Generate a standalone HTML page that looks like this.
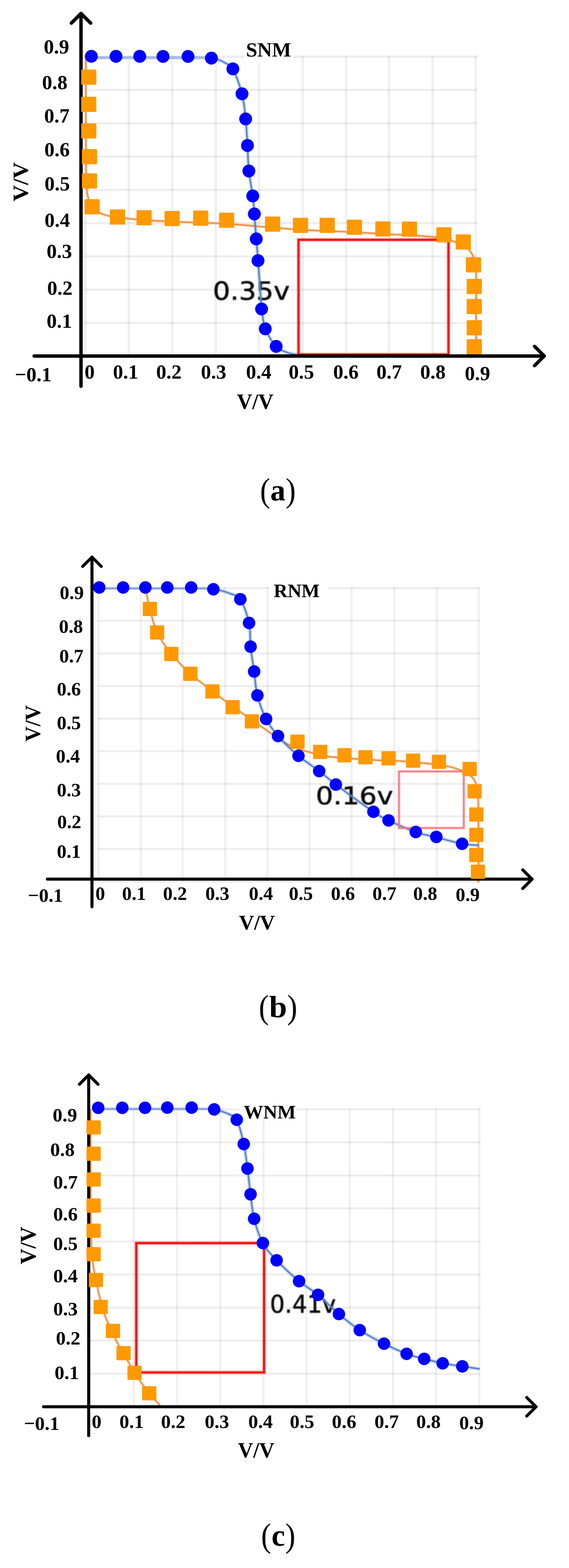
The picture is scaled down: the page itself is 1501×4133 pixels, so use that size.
<!DOCTYPE html>
<html lang="en">
<head>
<meta charset="utf-8">
<title>Noise margin curves: SNM, RNM, WNM</title>
<style>
html,body{margin:0;padding:0;background:#fff;}
body{width:1501px;height:4133px;overflow:hidden;}
svg{display:block;}
.gv{stroke:#000;stroke-opacity:0.058;}
.gh{stroke:#000;stroke-opacity:0.068;}
.axis path{stroke:#000;fill:none;stroke-linecap:round;stroke-linejoin:round;}
.dots circle{fill:#0000ff;}
.sq rect{fill:#ff9900;}
.ol{stroke:#ef9046;stroke-width:3.8;fill:none;stroke-linejoin:round;}
.olh{stroke:#f5a040;stroke-opacity:0.25;stroke-width:9;fill:none;stroke-linejoin:round;}
.bl{stroke:#5580c6;stroke-width:3.8;fill:none;stroke-linejoin:round;}
.blt{stroke:#a9bcde;stroke-width:8;fill:none;}
.blt2{stroke:#7f9dd6;stroke-width:4;fill:none;}
.blt2h{stroke:#9db4e0;stroke-opacity:0.45;stroke-width:9;fill:none;}
.blh{stroke:#5a86cc;stroke-opacity:0.3;stroke-width:10;fill:none;stroke-linejoin:round;}
.red{stroke:#ff1010;fill:none;}
.redh{stroke:#ff2020;stroke-opacity:0.3;fill:none;}
.red2{stroke:#f6707c;fill:none;}
.red2h{stroke:#f6707c;stroke-opacity:0.3;fill:none;}
.lab text,text.lab{font-family:"Liberation Serif",serif;font-weight:bold;fill:#000;}
.sans{font-family:"DejaVu Sans","Liberation Sans",sans-serif;fill:#0a0a0a;stroke:#0a0a0a;stroke-width:1.1;}
.cap{font-family:"Liberation Serif",serif;font-size:80px;fill:#000;}
.cap.b{font-weight:bold;}
</style>
</head>
<body>
<svg width="1501" height="4133" viewBox="0 0 1501 4133">
<defs>
<filter id="b0" x="-5%" y="-5%" width="110%" height="110%"><feGaussianBlur stdDeviation="0.7"/></filter>
<filter id="b2" x="-5%" y="-20%" width="110%" height="140%"><feGaussianBlur stdDeviation="0.9"/></filter>
</defs>
<rect width="1501" height="4133" fill="#fff"/>
<!-- chart a -->
<g id="chart-a">
<g class="grid"><g stroke-width="6.5">
<line class="gv" x1="225.6" y1="146.1" x2="225.6" y2="939.0"/>
<line class="gv" x1="340.0" y1="146.1" x2="340.0" y2="939.0"/>
<line class="gv" x1="454.4" y1="146.1" x2="454.4" y2="939.0"/>
<line class="gv" x1="569.0" y1="146.1" x2="569.0" y2="939.0"/>
<line class="gv" x1="683.1" y1="146.1" x2="683.1" y2="939.0"/>
<line class="gv" x1="798.5" y1="146.1" x2="798.5" y2="939.0"/>
<line class="gv" x1="913.0" y1="146.1" x2="913.0" y2="939.0"/>
<line class="gv" x1="1026.0" y1="146.1" x2="1026.0" y2="939.0"/>
<line class="gv" x1="1141.0" y1="146.1" x2="1141.0" y2="939.0"/>
<line class="gv" x1="1255.0" y1="146.1" x2="1255.0" y2="939.0"/>
</g><g stroke-width="6">
<line class="gh" x1="222.3" y1="149.6" x2="1258.2" y2="149.6"/>
<line class="gh" x1="222.3" y1="237.3" x2="1258.2" y2="237.3"/>
<line class="gh" x1="222.3" y1="325.0" x2="1258.2" y2="325.0"/>
<line class="gh" x1="222.3" y1="412.7" x2="1258.2" y2="412.7"/>
<line class="gh" x1="222.3" y1="500.4" x2="1258.2" y2="500.4"/>
<line class="gh" x1="222.3" y1="588.2" x2="1258.2" y2="588.2"/>
<line class="gh" x1="222.3" y1="675.9" x2="1258.2" y2="675.9"/>
<line class="gh" x1="222.3" y1="763.6" x2="1258.2" y2="763.6"/>
<line class="gh" x1="222.3" y1="851.3" x2="1258.2" y2="851.3"/>
<line class="gh" x1="222.3" y1="939.0" x2="1258.2" y2="939.0"/>
</g></g>
<rect x="646.0" y="100.0" width="128.0" height="66.0" fill="#fff"/>
<text class="sans" filter="url(#b2)" x="561.5" y="789.5" font-size="65.0" textLength="203.0" lengthAdjust="spacingAndGlyphs">0.35v</text>
<g filter="url(#b0)"><path class="olh" d="M226.5 152.0C226.5 176.7 226.4 255.3 226.5 300.0C226.6 344.7 226.6 388.3 226.8 420.0C227.1 451.7 226.6 471.7 228.0 490.0C229.4 508.3 231.3 519.5 235.0 530.0C238.7 540.5 243.3 547.0 250.0 553.0C256.7 559.0 265.0 562.7 275.0 566.0C285.0 569.3 292.5 570.7 310.0 573.0C327.5 575.3 356.0 578.2 380.0 580.0C404.0 581.8 429.0 582.8 454.0 584.0C479.0 585.2 505.7 586.0 530.0 587.0C554.3 588.0 568.3 587.8 600.0 590.0C631.7 592.2 686.7 597.3 720.0 600.0C753.3 602.7 775.8 604.5 800.0 606.0C824.2 607.5 842.5 608.0 865.0 609.0C887.5 610.0 912.5 610.8 935.0 612.0C957.5 613.2 971.3 614.4 1000.0 616.0C1028.7 617.6 1080.3 619.9 1107.0 621.7C1133.7 623.5 1142.8 623.8 1160.0 627.0C1177.2 630.2 1197.5 636.2 1210.0 641.0C1222.5 645.8 1228.2 649.0 1235.0 656.0C1241.8 663.0 1247.5 672.3 1251.0 683.0C1254.5 693.7 1255.2 700.5 1256.0 720.0C1256.8 739.5 1256.0 764.0 1256.0 800.0C1256.0 836.0 1256.0 913.3 1256.0 936.0"/><path class="ol" d="M226.5 152.0C226.5 176.7 226.4 255.3 226.5 300.0C226.6 344.7 226.6 388.3 226.8 420.0C227.1 451.7 226.6 471.7 228.0 490.0C229.4 508.3 231.3 519.5 235.0 530.0C238.7 540.5 243.3 547.0 250.0 553.0C256.7 559.0 265.0 562.7 275.0 566.0C285.0 569.3 292.5 570.7 310.0 573.0C327.5 575.3 356.0 578.2 380.0 580.0C404.0 581.8 429.0 582.8 454.0 584.0C479.0 585.2 505.7 586.0 530.0 587.0C554.3 588.0 568.3 587.8 600.0 590.0C631.7 592.2 686.7 597.3 720.0 600.0C753.3 602.7 775.8 604.5 800.0 606.0C824.2 607.5 842.5 608.0 865.0 609.0C887.5 610.0 912.5 610.8 935.0 612.0C957.5 613.2 971.3 614.4 1000.0 616.0C1028.7 617.6 1080.3 619.9 1107.0 621.7C1133.7 623.5 1142.8 623.8 1160.0 627.0C1177.2 630.2 1197.5 636.2 1210.0 641.0C1222.5 645.8 1228.2 649.0 1235.0 656.0C1241.8 663.0 1247.5 672.3 1251.0 683.0C1254.5 693.7 1255.2 700.5 1256.0 720.0C1256.8 739.5 1256.0 764.0 1256.0 800.0C1256.0 836.0 1256.0 913.3 1256.0 936.0"/><path class="blt" d="M240.0 152.0H557.0"/><path class="blh" d="M552.0 152.5C555.8 153.2 567.7 154.6 575.0 157.0C582.3 159.4 589.5 162.9 596.0 167.0C602.5 171.1 607.2 168.2 614.3 181.6C621.4 195.0 632.8 225.3 638.4 247.3C644.0 269.3 645.6 290.9 648.0 313.6C650.4 336.3 651.4 360.6 652.8 383.5C654.2 406.4 654.2 428.5 656.5 450.7C658.8 472.9 664.3 497.6 666.7 516.5C669.1 535.4 669.5 545.1 671.0 564.0C672.5 582.9 674.4 609.2 676.0 629.7C677.6 650.2 679.0 666.9 680.6 686.9C682.2 706.9 683.8 728.6 685.5 750.0C687.2 771.4 688.3 795.5 690.7 815.0C693.1 834.5 693.5 850.5 699.8 866.8C706.1 883.1 718.6 902.5 728.6 913.0C738.6 923.5 750.3 926.3 760.0 930.0C769.7 933.7 782.5 934.2 787.0 935.0"/><path class="bl" d="M552.0 152.5C555.8 153.2 567.7 154.6 575.0 157.0C582.3 159.4 589.5 162.9 596.0 167.0C602.5 171.1 607.2 168.2 614.3 181.6C621.4 195.0 632.8 225.3 638.4 247.3C644.0 269.3 645.6 290.9 648.0 313.6C650.4 336.3 651.4 360.6 652.8 383.5C654.2 406.4 654.2 428.5 656.5 450.7C658.8 472.9 664.3 497.6 666.7 516.5C669.1 535.4 669.5 545.1 671.0 564.0C672.5 582.9 674.4 609.2 676.0 629.7C677.6 650.2 679.0 666.9 680.6 686.9C682.2 706.9 683.8 728.6 685.5 750.0C687.2 771.4 688.3 795.5 690.7 815.0C693.1 834.5 693.5 850.5 699.8 866.8C706.1 883.1 718.6 902.5 728.6 913.0C738.6 923.5 750.3 926.3 760.0 930.0C769.7 933.7 782.5 934.2 787.0 935.0"/></g>
<g filter="url(#b0)"><rect class="redh" x="787.4" y="632.0" width="395.6" height="302.5" stroke-width="10.5"/><rect class="red" x="787.4" y="632.0" width="395.6" height="302.5" stroke-width="5.5"/></g>
<g class="axis" stroke-width="9">
<path d="M213.7 1018.0 V35.5"/>
<path d="M188.2 61.0 L213.7 35.5 L239.2 61.0"/>
<path d="M90.0 938.4 H1435.5"/>
<path d="M1410.0 912.9 L1435.5 938.4 L1410.0 963.9"/>
</g>

<g class="sq"><rect x="214.2" y="183.3" width="40.0" height="40.0" rx="2.5"/><rect x="214.2" y="255.0" width="40.0" height="40.0" rx="2.5"/><rect x="214.2" y="325.0" width="40.0" height="40.0" rx="2.5"/><rect x="216.0" y="393.0" width="40.0" height="40.0" rx="2.5"/><rect x="216.0" y="457.0" width="40.0" height="40.0" rx="2.5"/><rect x="223.0" y="525.0" width="40.0" height="40.0" rx="2.5"/><rect x="290.0" y="552.0" width="40.0" height="40.0" rx="2.5"/><rect x="360.1" y="554.0" width="40.0" height="40.0" rx="2.5"/><rect x="434.0" y="556.0" width="40.0" height="40.0" rx="2.5"/><rect x="509.4" y="555.0" width="40.0" height="40.0" rx="2.5"/><rect x="577.8" y="560.6" width="40.0" height="40.0" rx="2.5"/><rect x="699.0" y="570.7" width="40.0" height="40.0" rx="2.5"/><rect x="772.7" y="574.0" width="40.0" height="40.0" rx="2.5"/><rect x="843.0" y="574.0" width="40.0" height="40.0" rx="2.5"/><rect x="915.0" y="579.0" width="40.0" height="40.0" rx="2.5"/><rect x="990.0" y="583.5" width="40.0" height="40.0" rx="2.5"/><rect x="1060.0" y="584.0" width="40.0" height="40.0" rx="2.5"/><rect x="1151.0" y="599.0" width="40.0" height="40.0" rx="2.5"/><rect x="1202.0" y="617.7" width="40.0" height="40.0" rx="2.5"/><rect x="1229.0" y="678.0" width="40.0" height="40.0" rx="2.5"/><rect x="1231.0" y="735.0" width="40.0" height="40.0" rx="2.5"/><rect x="1231.0" y="788.0" width="40.0" height="40.0" rx="2.5"/><rect x="1231.0" y="844.0" width="40.0" height="40.0" rx="2.5"/><rect x="1231.0" y="894.0" width="40.0" height="40.0" rx="2.5"/></g>
<g class="dots"><circle cx="240.9" cy="148.4" r="17.0"/><circle cx="306.0" cy="148.5" r="17.0"/><circle cx="368.6" cy="148.5" r="17.0"/><circle cx="430.0" cy="148.7" r="17.0"/><circle cx="496.0" cy="148.7" r="17.0"/><circle cx="557.7" cy="153.2" r="17.0"/><circle cx="614.3" cy="181.6" r="17.0"/><circle cx="638.4" cy="247.3" r="17.0"/><circle cx="648.0" cy="313.6" r="17.0"/><circle cx="652.8" cy="383.5" r="17.0"/><circle cx="656.5" cy="450.7" r="17.0"/><circle cx="666.7" cy="516.5" r="17.0"/><circle cx="671.0" cy="564.0" r="17.0"/><circle cx="676.0" cy="629.7" r="17.0"/><circle cx="680.6" cy="686.9" r="17.0"/><circle cx="690.0" cy="814.4" r="17.0"/><circle cx="699.8" cy="866.8" r="17.0"/><circle cx="728.6" cy="913.0" r="17.0"/></g>
<g class="lab" font-size="53.5">
<text x="115.5" y="141.0">0.9</text>
<text x="111.0" y="234.5">0.8</text>
<text x="116.5" y="323.0">0.7</text>
<text x="117.0" y="412.0">0.6</text>
<text x="117.6" y="501.5">0.5</text>
<text x="117.6" y="597.6">0.4</text>
<text x="123.0" y="680.0">0.3</text>
<text x="124.5" y="777.0">0.2</text>
<text x="123.0" y="864.0">0.1</text>
<text x="39.0" y="1004.6">−0.1</text>
<text x="223.0" y="997.6">0</text>
<text x="298.0" y="997.6">0.1</text>
<text x="412.0" y="997.6">0.2</text>
<text x="530.0" y="997.6">0.3</text>
<text x="649.0" y="997.6">0.4</text>
<text x="761.5" y="997.6">0.5</text>
<text x="879.0" y="997.6">0.6</text>
<text x="993.0" y="997.6">0.7</text>
<text x="1108.5" y="997.6">0.8</text>
<text x="1226.0" y="1002.0">0.9</text>
<text x="649.0" y="148.5">SNM</text>
</g>
<g class="lab" font-size="56">
<text x="625.0" y="1077.8">V/V</text>
</g>
<text class="lab" font-size="56" transform="translate(74.0 531.0) rotate(-90) scale(1.070 1.030)">V/V</text>
<text class="cap" transform="translate(733.0 1318.6) scale(1 1.12)" x="-20.5" y="3" text-anchor="end">(</text><text class="cap b" transform="translate(733.0 1318.6) scale(1.00 1)" text-anchor="middle">a</text><text class="cap" transform="translate(733.0 1318.6) scale(1 1.12)" x="20.5" y="3">)</text>
</g>
<!-- chart b -->
<g id="chart-b">
<g class="grid"><g stroke-width="5.5">
<line class="gv" x1="260.0" y1="1546.8" x2="260.0" y2="2324.0"/>
<line class="gv" x1="371.2" y1="1546.8" x2="371.2" y2="2324.0"/>
<line class="gv" x1="481.5" y1="1546.8" x2="481.5" y2="2324.0"/>
<line class="gv" x1="594.0" y1="1546.8" x2="594.0" y2="2324.0"/>
<line class="gv" x1="705.6" y1="1546.8" x2="705.6" y2="2324.0"/>
<line class="gv" x1="816.5" y1="1546.8" x2="816.5" y2="2324.0"/>
<line class="gv" x1="927.5" y1="1546.8" x2="927.5" y2="2324.0"/>
<line class="gv" x1="1040.0" y1="1546.8" x2="1040.0" y2="2324.0"/>
<line class="gv" x1="1152.0" y1="1546.8" x2="1152.0" y2="2324.0"/>
<line class="gv" x1="1263.0" y1="1546.8" x2="1263.0" y2="2324.0"/>
</g><g stroke-width="5.5">
<line class="gh" x1="257.2" y1="1550.3" x2="1265.8" y2="1550.3"/>
<line class="gh" x1="257.2" y1="1636.3" x2="1265.8" y2="1636.3"/>
<line class="gh" x1="257.2" y1="1722.2" x2="1265.8" y2="1722.2"/>
<line class="gh" x1="257.2" y1="1808.2" x2="1265.8" y2="1808.2"/>
<line class="gh" x1="257.2" y1="1894.2" x2="1265.8" y2="1894.2"/>
<line class="gh" x1="257.2" y1="1980.1" x2="1265.8" y2="1980.1"/>
<line class="gh" x1="257.2" y1="2066.1" x2="1265.8" y2="2066.1"/>
<line class="gh" x1="257.2" y1="2152.1" x2="1265.8" y2="2152.1"/>
<line class="gh" x1="257.2" y1="2238.0" x2="1265.8" y2="2238.0"/>
<line class="gh" x1="257.2" y1="2324.0" x2="1265.8" y2="2324.0"/>
</g></g>
<rect x="711.0" y="1500.0" width="154.0" height="72.0" fill="#fff"/>
<text class="sans" filter="url(#b2)" x="833.0" y="2120.0" font-size="63.5" textLength="204.0" lengthAdjust="spacingAndGlyphs">0.16v</text>
<g filter="url(#b0)"><path class="olh" d="M383.5 1548.5C385.5 1557.9 390.1 1585.2 395.3 1605.0C400.5 1624.8 405.1 1647.2 414.5 1667.0C423.9 1686.8 437.8 1705.9 452.0 1723.7C466.2 1741.5 486.7 1761.3 500.0 1774.0C513.3 1786.7 518.7 1789.5 532.0 1800.0C545.3 1810.5 562.2 1823.7 580.0 1837.0C597.8 1850.3 622.1 1867.9 639.0 1880.0C655.9 1892.1 662.1 1896.2 681.6 1909.5C701.1 1922.8 732.9 1947.6 756.0 1960.0C779.1 1972.4 800.8 1978.2 820.5 1984.0C840.2 1989.8 844.1 1991.7 874.0 1995.0C903.9 1998.3 967.5 2002.0 1000.0 2004.0C1032.5 2006.0 1039.7 2004.5 1069.0 2007.0C1098.3 2009.5 1150.2 2014.3 1176.0 2019.0C1201.8 2023.7 1211.5 2028.8 1224.0 2035.0C1236.5 2041.2 1244.9 2045.3 1251.0 2056.0C1257.1 2066.7 1258.9 2075.0 1260.7 2099.0C1262.5 2123.0 1261.8 2162.2 1262.0 2200.0C1262.2 2237.8 1262.0 2305.0 1262.0 2326.0"/><path class="ol" d="M383.5 1548.5C385.5 1557.9 390.1 1585.2 395.3 1605.0C400.5 1624.8 405.1 1647.2 414.5 1667.0C423.9 1686.8 437.8 1705.9 452.0 1723.7C466.2 1741.5 486.7 1761.3 500.0 1774.0C513.3 1786.7 518.7 1789.5 532.0 1800.0C545.3 1810.5 562.2 1823.7 580.0 1837.0C597.8 1850.3 622.1 1867.9 639.0 1880.0C655.9 1892.1 662.1 1896.2 681.6 1909.5C701.1 1922.8 732.9 1947.6 756.0 1960.0C779.1 1972.4 800.8 1978.2 820.5 1984.0C840.2 1989.8 844.1 1991.7 874.0 1995.0C903.9 1998.3 967.5 2002.0 1000.0 2004.0C1032.5 2006.0 1039.7 2004.5 1069.0 2007.0C1098.3 2009.5 1150.2 2014.3 1176.0 2019.0C1201.8 2023.7 1211.5 2028.8 1224.0 2035.0C1236.5 2041.2 1244.9 2045.3 1251.0 2056.0C1257.1 2066.7 1258.9 2075.0 1260.7 2099.0C1262.5 2123.0 1261.8 2162.2 1262.0 2200.0C1262.2 2237.8 1262.0 2305.0 1262.0 2326.0"/><path class="blt2h" d="M261.8 1551.0H562.0"/><path class="blt2" d="M261.8 1551.0H562.0"/><path class="blh" d="M556.0 1552.0C560.0 1552.7 571.3 1553.8 580.0 1556.0C588.7 1558.2 599.0 1561.1 608.0 1565.0C617.0 1568.9 625.8 1566.7 634.0 1579.5C642.2 1592.3 652.5 1621.2 657.0 1642.0C661.5 1662.8 658.8 1683.2 661.0 1704.5C663.2 1725.8 667.4 1748.6 670.4 1770.0C673.4 1791.4 673.7 1812.2 679.0 1833.0C684.3 1853.8 692.9 1877.2 702.0 1895.0C711.1 1912.8 719.2 1923.8 733.4 1940.0C747.6 1956.2 769.3 1976.9 787.4 1992.3C805.5 2007.7 825.6 2019.8 842.0 2032.4C858.4 2045.0 862.2 2050.1 886.0 2068.0C909.8 2085.9 961.8 2124.0 985.0 2139.7C1008.2 2155.4 1006.4 2153.5 1025.0 2162.4C1043.6 2171.3 1075.8 2185.6 1096.8 2193.0C1117.8 2200.4 1130.6 2201.8 1151.0 2207.0C1171.4 2212.2 1200.5 2220.5 1219.0 2224.0C1237.5 2227.5 1254.8 2227.3 1262.0 2228.0"/><path class="bl" d="M556.0 1552.0C560.0 1552.7 571.3 1553.8 580.0 1556.0C588.7 1558.2 599.0 1561.1 608.0 1565.0C617.0 1568.9 625.8 1566.7 634.0 1579.5C642.2 1592.3 652.5 1621.2 657.0 1642.0C661.5 1662.8 658.8 1683.2 661.0 1704.5C663.2 1725.8 667.4 1748.6 670.4 1770.0C673.4 1791.4 673.7 1812.2 679.0 1833.0C684.3 1853.8 692.9 1877.2 702.0 1895.0C711.1 1912.8 719.2 1923.8 733.4 1940.0C747.6 1956.2 769.3 1976.9 787.4 1992.3C805.5 2007.7 825.6 2019.8 842.0 2032.4C858.4 2045.0 862.2 2050.1 886.0 2068.0C909.8 2085.9 961.8 2124.0 985.0 2139.7C1008.2 2155.4 1006.4 2153.5 1025.0 2162.4C1043.6 2171.3 1075.8 2185.6 1096.8 2193.0C1117.8 2200.4 1130.6 2201.8 1151.0 2207.0C1171.4 2212.2 1200.5 2220.5 1219.0 2224.0C1237.5 2227.5 1254.8 2227.3 1262.0 2228.0"/></g>
<g filter="url(#b0)"><rect class="red2h" x="1052.5" y="2033.4" width="171.0" height="149.1" stroke-width="8.5"/><rect class="red2" x="1052.5" y="2033.4" width="171.0" height="149.1" stroke-width="3.5"/></g>
<g class="axis" stroke-width="8">
<path d="M242.6 2390.0 V1468.5"/>
<path d="M218.1 1493.0 L242.6 1468.5 L267.1 1493.0"/>
<path d="M125.0 2317.3 H1403.5"/>
<path d="M1379.0 2292.8 L1403.5 2317.3 L1379.0 2341.8"/>
</g>

<g class="sq"><rect x="376.6" y="1586.2" width="37.5" height="37.5" rx="2.5"/><rect x="395.8" y="1648.2" width="37.5" height="37.5" rx="2.5"/><rect x="433.2" y="1705.0" width="37.5" height="37.5" rx="2.5"/><rect x="483.2" y="1757.2" width="37.5" height="37.5" rx="2.5"/><rect x="541.6" y="1803.7" width="37.5" height="37.5" rx="2.5"/><rect x="595.0" y="1845.2" width="37.5" height="37.5" rx="2.5"/><rect x="645.8" y="1882.8" width="37.5" height="37.5" rx="2.5"/><rect x="766.0" y="1936.2" width="37.5" height="37.5" rx="2.5"/><rect x="825.9" y="1963.2" width="37.5" height="37.5" rx="2.5"/><rect x="890.0" y="1972.0" width="37.5" height="37.5" rx="2.5"/><rect x="945.2" y="1977.2" width="37.5" height="37.5" rx="2.5"/><rect x="1006.2" y="1980.0" width="37.5" height="37.5" rx="2.5"/><rect x="1071.0" y="1986.2" width="37.5" height="37.5" rx="2.5"/><rect x="1139.2" y="1989.2" width="37.5" height="37.5" rx="2.5"/><rect x="1220.2" y="2008.2" width="37.5" height="37.5" rx="2.5"/><rect x="1233.2" y="2067.1" width="37.5" height="37.5" rx="2.5"/><rect x="1237.7" y="2128.2" width="37.5" height="37.5" rx="2.5"/><rect x="1237.7" y="2181.7" width="37.5" height="37.5" rx="2.5"/><rect x="1237.7" y="2234.7" width="37.5" height="37.5" rx="2.5"/><rect x="1242.0" y="2279.1" width="37.5" height="37.5" rx="2.5"/></g>
<g class="dots"><circle cx="261.8" cy="1548.5" r="16.5"/><circle cx="324.8" cy="1548.5" r="16.5"/><circle cx="383.5" cy="1548.5" r="16.5"/><circle cx="441.3" cy="1548.6" r="16.5"/><circle cx="504.3" cy="1548.6" r="16.5"/><circle cx="562.8" cy="1553.2" r="16.5"/><circle cx="634.0" cy="1579.5" r="16.5"/><circle cx="657.0" cy="1642.0" r="16.5"/><circle cx="661.0" cy="1704.5" r="16.5"/><circle cx="670.4" cy="1770.0" r="16.5"/><circle cx="679.0" cy="1833.0" r="16.5"/><circle cx="702.0" cy="1895.0" r="16.5"/><circle cx="733.4" cy="1940.0" r="16.5"/><circle cx="787.4" cy="1992.3" r="16.5"/><circle cx="842.0" cy="2032.4" r="16.5"/><circle cx="886.0" cy="2068.0" r="16.5"/><circle cx="985.0" cy="2139.7" r="16.5"/><circle cx="1025.0" cy="2162.4" r="16.5"/><circle cx="1096.8" cy="2193.0" r="16.5"/><circle cx="1151.0" cy="2206.0" r="16.5"/><circle cx="1219.0" cy="2224.0" r="16.5"/></g>
<g class="lab" font-size="50.8">
<text x="157.6" y="1579.0">0.9</text>
<text x="155.5" y="1668.0">0.8</text>
<text x="156.6" y="1746.0">0.7</text>
<text x="150.0" y="1833.2">0.6</text>
<text x="150.0" y="1922.0">0.5</text>
<text x="147.5" y="2010.0">0.4</text>
<text x="150.0" y="2098.5">0.3</text>
<text x="151.0" y="2183.0">0.2</text>
<text x="150.0" y="2261.4">0.1</text>
<text x="73.8" y="2377.0">−0.1</text>
<text x="251.7" y="2372.0">0</text>
<text x="322.0" y="2372.0">0.1</text>
<text x="430.0" y="2372.0">0.2</text>
<text x="541.7" y="2372.0">0.3</text>
<text x="656.6" y="2372.0">0.4</text>
<text x="762.0" y="2372.0">0.5</text>
<text x="873.0" y="2372.0">0.6</text>
<text x="982.4" y="2372.0">0.7</text>
<text x="1090.0" y="2372.0">0.8</text>
<text x="1202.0" y="2375.0">0.9</text>
<text x="722.0" y="1573.6">RNM</text>
</g>
<g class="lab" font-size="55">
<text x="630.5" y="2450.0">V/V</text>
</g>
<text class="lab" font-size="56" transform="translate(106.0 1955.0) rotate(-90) scale(1.000 1.010)">V/V</text>
<text class="cap" transform="translate(733.5 2681.0) scale(1 1.12)" x="-24.0" y="3" text-anchor="end">(</text><text class="cap b" transform="translate(733.5 2681.0) scale(1.06 1)" text-anchor="middle">b</text><text class="cap" transform="translate(733.5 2681.0) scale(1 1.12)" x="24.0" y="3">)</text>
</g>
<!-- chart c -->
<g id="chart-c">
<g class="grid"><g stroke-width="5.5">
<line class="gv" x1="239.3" y1="2920.5" x2="239.3" y2="3708.0"/>
<line class="gv" x1="353.2" y1="2920.5" x2="353.2" y2="3708.0"/>
<line class="gv" x1="467.1" y1="2920.5" x2="467.1" y2="3708.0"/>
<line class="gv" x1="581.0" y1="2920.5" x2="581.0" y2="3708.0"/>
<line class="gv" x1="694.9" y1="2920.5" x2="694.9" y2="3708.0"/>
<line class="gv" x1="808.8" y1="2920.5" x2="808.8" y2="3708.0"/>
<line class="gv" x1="922.7" y1="2920.5" x2="922.7" y2="3708.0"/>
<line class="gv" x1="1036.6" y1="2920.5" x2="1036.6" y2="3708.0"/>
<line class="gv" x1="1150.5" y1="2920.5" x2="1150.5" y2="3708.0"/>
<line class="gv" x1="1264.4" y1="2920.5" x2="1264.4" y2="3708.0"/>
</g><g stroke-width="5.5">
<line class="gh" x1="236.6" y1="2924.0" x2="1267.2" y2="2924.0"/>
<line class="gh" x1="236.6" y1="3011.1" x2="1267.2" y2="3011.1"/>
<line class="gh" x1="236.6" y1="3098.2" x2="1267.2" y2="3098.2"/>
<line class="gh" x1="236.6" y1="3185.3" x2="1267.2" y2="3185.3"/>
<line class="gh" x1="236.6" y1="3272.4" x2="1267.2" y2="3272.4"/>
<line class="gh" x1="236.6" y1="3359.6" x2="1267.2" y2="3359.6"/>
<line class="gh" x1="236.6" y1="3446.7" x2="1267.2" y2="3446.7"/>
<line class="gh" x1="236.6" y1="3533.8" x2="1267.2" y2="3533.8"/>
<line class="gh" x1="236.6" y1="3620.9" x2="1267.2" y2="3620.9"/>
<line class="gh" x1="236.6" y1="3708.0" x2="1267.2" y2="3708.0"/>
</g></g>
<rect x="632.0" y="2880.0" width="150.0" height="70.0" fill="#fff"/>
<text class="sans" filter="url(#b2)" x="712.0" y="3460.0" font-size="64.0" textLength="174.0" lengthAdjust="spacingAndGlyphs">0.41v</text>
<g filter="url(#b0)"><path class="olh" d="M239.0 2925.0C239.0 2954.2 238.8 3045.8 239.0 3100.0C239.2 3154.2 239.2 3213.3 240.0 3250.0C240.8 3286.7 242.2 3301.1 244.0 3320.0C245.8 3338.9 247.4 3345.4 251.0 3363.7C254.6 3382.0 261.0 3412.2 265.5 3430.0C270.0 3447.8 270.9 3453.1 277.8 3470.5C284.7 3487.9 299.0 3518.5 307.0 3534.6C315.0 3550.7 318.0 3552.8 326.0 3566.8C334.0 3580.8 343.7 3601.0 355.0 3618.6C366.3 3636.2 382.5 3658.3 393.7 3672.5C404.9 3686.7 417.3 3698.8 422.0 3704.0"/><path class="ol" d="M239.0 2925.0C239.0 2954.2 238.8 3045.8 239.0 3100.0C239.2 3154.2 239.2 3213.3 240.0 3250.0C240.8 3286.7 242.2 3301.1 244.0 3320.0C245.8 3338.9 247.4 3345.4 251.0 3363.7C254.6 3382.0 261.0 3412.2 265.5 3430.0C270.0 3447.8 270.9 3453.1 277.8 3470.5C284.7 3487.9 299.0 3518.5 307.0 3534.6C315.0 3550.7 318.0 3552.8 326.0 3566.8C334.0 3580.8 343.7 3601.0 355.0 3618.6C366.3 3636.2 382.5 3658.3 393.7 3672.5C404.9 3686.7 417.3 3698.8 422.0 3704.0"/><path class="blt2h" d="M259.0 2923.0H564.0"/><path class="blt2" d="M259.0 2923.0H564.0"/><path class="blh" d="M558.0 2924.0C561.7 2924.7 572.3 2925.8 580.0 2928.0C587.7 2930.2 596.6 2933.1 604.0 2937.0C611.4 2940.9 618.0 2938.3 624.5 2951.4C631.0 2964.5 638.3 2994.1 643.0 3015.5C647.7 3036.9 649.8 3057.9 652.8 3080.0C655.8 3102.1 658.1 3125.9 661.0 3148.0C663.9 3170.1 665.0 3191.1 670.4 3212.5C675.8 3233.9 683.5 3258.3 693.4 3276.6C703.3 3294.8 713.8 3305.3 729.7 3322.0C745.6 3338.7 770.8 3361.8 789.0 3377.0C807.2 3392.2 821.5 3398.6 839.0 3413.0C856.5 3427.4 875.7 3448.1 894.0 3463.6C912.3 3479.1 929.2 3493.0 949.0 3506.0C968.8 3519.0 992.4 3531.3 1013.0 3541.7C1033.6 3552.1 1054.9 3561.7 1072.6 3568.4C1090.3 3575.1 1103.2 3577.5 1119.0 3581.7C1134.8 3585.9 1151.0 3590.2 1167.7 3593.5C1184.5 3596.8 1203.2 3599.0 1219.5 3601.5C1235.8 3604.0 1257.8 3607.2 1265.5 3608.4"/><path class="bl" d="M558.0 2924.0C561.7 2924.7 572.3 2925.8 580.0 2928.0C587.7 2930.2 596.6 2933.1 604.0 2937.0C611.4 2940.9 618.0 2938.3 624.5 2951.4C631.0 2964.5 638.3 2994.1 643.0 3015.5C647.7 3036.9 649.8 3057.9 652.8 3080.0C655.8 3102.1 658.1 3125.9 661.0 3148.0C663.9 3170.1 665.0 3191.1 670.4 3212.5C675.8 3233.9 683.5 3258.3 693.4 3276.6C703.3 3294.8 713.8 3305.3 729.7 3322.0C745.6 3338.7 770.8 3361.8 789.0 3377.0C807.2 3392.2 821.5 3398.6 839.0 3413.0C856.5 3427.4 875.7 3448.1 894.0 3463.6C912.3 3479.1 929.2 3493.0 949.0 3506.0C968.8 3519.0 992.4 3531.3 1013.0 3541.7C1033.6 3552.1 1054.9 3561.7 1072.6 3568.4C1090.3 3575.1 1103.2 3577.5 1119.0 3581.7C1134.8 3585.9 1151.0 3590.2 1167.7 3593.5C1184.5 3596.8 1203.2 3599.0 1219.5 3601.5C1235.8 3604.0 1257.8 3607.2 1265.5 3608.4"/></g>
<g filter="url(#b0)"><rect class="redh" x="359.5" y="3276.6" width="337.1" height="340.9" stroke-width="10.5"/><rect class="red" x="359.5" y="3276.6" width="337.1" height="340.9" stroke-width="5.5"/></g>
<g class="axis" stroke-width="8">
<path d="M234.0 3784.0 V2833.5"/>
<path d="M209.5 2858.0 L234.0 2833.5 L258.5 2858.0"/>
<path d="M115.0 3708.0 H1414.0"/>
<path d="M1389.5 3683.5 L1414.0 3708.0 L1389.5 3732.5"/>
</g>

<g class="sq"><rect x="228.2" y="2952.9" width="37.5" height="37.5" rx="2.5"/><rect x="228.2" y="3022.2" width="37.5" height="37.5" rx="2.5"/><rect x="228.2" y="3090.2" width="37.5" height="37.5" rx="2.5"/><rect x="228.2" y="3159.1" width="37.5" height="37.5" rx="2.5"/><rect x="228.2" y="3225.2" width="37.5" height="37.5" rx="2.5"/><rect x="228.2" y="3287.2" width="37.5" height="37.5" rx="2.5"/><rect x="234.2" y="3355.2" width="37.5" height="37.5" rx="2.5"/><rect x="246.8" y="3426.2" width="37.5" height="37.5" rx="2.5"/><rect x="279.2" y="3489.2" width="37.5" height="37.5" rx="2.5"/><rect x="307.2" y="3548.1" width="37.5" height="37.5" rx="2.5"/><rect x="336.2" y="3599.8" width="37.5" height="37.5" rx="2.5"/><rect x="374.9" y="3653.8" width="37.5" height="37.5" rx="2.5"/></g>
<g class="dots"><circle cx="259.0" cy="2920.0" r="16.5"/><circle cx="322.6" cy="2920.0" r="16.5"/><circle cx="382.5" cy="2920.0" r="16.5"/><circle cx="441.3" cy="2919.5" r="16.5"/><circle cx="505.5" cy="2919.5" r="16.5"/><circle cx="565.0" cy="2924.2" r="16.5"/><circle cx="624.5" cy="2951.4" r="16.5"/><circle cx="643.0" cy="3015.5" r="16.5"/><circle cx="652.8" cy="3080.0" r="16.5"/><circle cx="661.0" cy="3148.0" r="16.5"/><circle cx="670.4" cy="3212.5" r="16.5"/><circle cx="693.4" cy="3276.6" r="16.5"/><circle cx="729.7" cy="3322.0" r="16.5"/><circle cx="789.0" cy="3377.0" r="16.5"/><circle cx="839.0" cy="3413.0" r="16.5"/><circle cx="894.0" cy="3463.6" r="16.5"/><circle cx="949.0" cy="3506.0" r="16.5"/><circle cx="1013.0" cy="3541.7" r="16.5"/><circle cx="1072.6" cy="3568.4" r="16.5"/><circle cx="1119.0" cy="3581.7" r="16.5"/><circle cx="1167.7" cy="3593.5" r="16.5"/><circle cx="1219.5" cy="3601.5" r="16.5"/></g>
<g class="lab" font-size="51.5">
<text x="139.0" y="2955.7">0.9</text>
<text x="132.5" y="3046.5">0.8</text>
<text x="140.5" y="3132.5">0.7</text>
<text x="140.5" y="3216.8">0.6</text>
<text x="140.5" y="3295.0">0.5</text>
<text x="140.5" y="3379.7">0.4</text>
<text x="140.5" y="3466.8">0.3</text>
<text x="147.5" y="3543.6">0.2</text>
<text x="144.0" y="3634.5">0.1</text>
<text x="63.0" y="3768.7">−0.1</text>
<text x="242.0" y="3764.4">0</text>
<text x="315.0" y="3764.4">0.1</text>
<text x="424.7" y="3764.4">0.2</text>
<text x="540.0" y="3764.4">0.3</text>
<text x="655.0" y="3764.4">0.4</text>
<text x="764.5" y="3764.4">0.5</text>
<text x="875.6" y="3764.4">0.6</text>
<text x="987.8" y="3764.4">0.7</text>
<text x="1098.0" y="3764.4">0.8</text>
<text x="1211.6" y="3767.0">0.9</text>
<text x="643.0" y="2947.6">WNM</text>
</g>
<g class="lab" font-size="56">
<text x="627.5" y="3842.0">V/V</text>
</g>
<text class="lab" font-size="56" transform="translate(94.0 3332.7) rotate(-90) scale(1.030 1.040)">V/V</text>
<text class="cap" transform="translate(734.0 4074.0) scale(1 1.12)" x="-18.5" y="3" text-anchor="end">(</text><text class="cap b" transform="translate(734.0 4074.0) scale(1.00 1)" text-anchor="middle">c</text><text class="cap" transform="translate(734.0 4074.0) scale(1 1.12)" x="18.5" y="3">)</text>
</g>
</svg>
</body>
</html>
